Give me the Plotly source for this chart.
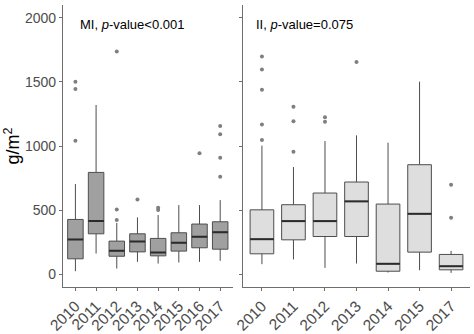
import plotly.graph_objects as go

# ---- data: MI panel ----
mi_years = ["2010", "2011", "2012", "2013", "2014", "2015", "2016", "2017"]
mi_q1 = [120, 315, 140, 174, 143, 180, 206, 195]
mi_median = [271, 414, 182, 255, 169, 245, 292, 328]
mi_q3 = [427, 794, 258, 315, 279, 323, 391, 409]
mi_low = [23, 161, 44, 96, 83, 91, 96, 104]
mi_high = [703, 1320, 400, 443, 461, 539, 539, 578]
mi_out_year_idx = [0, 0, 0, 2, 2, 2, 3, 4, 4, 6, 7, 7, 7, 7]
mi_out_vals = [1502, 1445, 1041, 1737, 505, 422, 583, 518, 500, 943, 760, 1156, 1091, 909]

# ---- data: II panel ----
ii_years = ["2010", "2011", "2012", "2013", "2014", "2015", "2017"]
ii_q1 = [159, 268, 294, 294, 23, 172, 34]
ii_median = [273, 414, 414, 568, 81, 471, 62]
ii_q3 = [502, 542, 633, 719, 547, 854, 154]
ii_low = [78, 115, 49, 83, 13, 31, 10]
ii_high = [1003, 836, 1039, 1083, 1026, 1502, 182]
ii_out_year_idx = [0, 0, 0, 0, 0, 1, 1, 1, 2, 2, 3, 6, 6]
ii_out_vals = [1698, 1596, 1438, 1167, 1047, 1307, 1193, 956, 1224, 1190, 1656, 698, 440]

y_ticks = [0, 500, 1000, 1500, 2000]

BOX_W = 0.75
OUTLINE = "#4d4d4d"
MED = "#2b2b2b"
PT = "#7f7f7f"

fig = go.Figure()


def add_panel(years, q1, med, q3, lo, hi, oidx, ovals, fill, xa, ya):
    idx = list(range(len(years)))
    fig.add_trace(go.Box(
        x=idx, q1=q1, median=med, q3=q3, lowerfence=lo, upperfence=hi,
        width=BOX_W, fillcolor=fill, line=dict(color=OUTLINE, width=1),
        whiskerwidth=0, boxpoints=False, showlegend=False, hoverinfo="skip",
        xaxis=xa, yaxis=ya))
    # thicker median lines
    mx, my = [], []
    for i, m in zip(idx, med):
        mx += [i - BOX_W / 2, i + BOX_W / 2, None]
        my += [m, m, None]
    fig.add_trace(go.Scatter(x=mx, y=my, mode="lines",
                             line=dict(color=MED, width=2),
                             showlegend=False, hoverinfo="skip",
                             xaxis=xa, yaxis=ya))
    fig.add_trace(go.Scatter(x=oidx, y=ovals, mode="markers",
                             marker=dict(color=PT, size=4),
                             showlegend=False, hoverinfo="skip",
                             xaxis=xa, yaxis=ya))


add_panel(mi_years, mi_q1, mi_median, mi_q3, mi_low, mi_high,
          mi_out_year_idx, mi_out_vals, "#a0a0a0", "x", "y")
add_panel(ii_years, ii_q1, ii_median, ii_q3, ii_low, ii_high,
          ii_out_year_idx, ii_out_vals, "#dedede", "x2", "y2")

axis_common = dict(showgrid=False, zeroline=False, showline=True,
                   linecolor="#6e6e6e", linewidth=1.3, automargin=False,
                   ticks="outside", ticklen=3, tickcolor="#6e6e6e")

fig.update_layout(
    width=474, height=334,
    margin=dict(l=63, r=4, t=5, b=47),
    plot_bgcolor="white", paper_bgcolor="white",
    font=dict(family="Liberation Sans, Arial, sans-serif", color="#4d4d4d"),
    xaxis=dict(domain=[0, 0.4167], range=[-0.6, len(mi_years) - 0.4],
               tickvals=list(range(len(mi_years))), ticktext=mi_years,
               tickangle=-45, tickfont=dict(size=15.5, color="#4d4d4d"),
               anchor="y", **axis_common),
    xaxis2=dict(domain=[0.4423, 1], range=[-0.6, len(ii_years) - 0.4],
                tickvals=list(range(len(ii_years))), ticktext=ii_years,
                tickangle=-45, tickfont=dict(size=15.5, color="#4d4d4d"),
                anchor="y2", **axis_common),
    yaxis=dict(range=[-100, 2100], tickvals=y_ticks,
               tickfont=dict(size=14, color="#4d4d4d"),
               title=dict(text="g/m<sup>2</sup>", font=dict(size=18, color="black"),
                          standoff=0),
               anchor="x", **axis_common),
    yaxis2=dict(range=[-100, 2100], tickvals=y_ticks, showticklabels=False,
                anchor="x2", **axis_common),
    annotations=[
        dict(text="MI, <i>p</i>-value<0.001", xref="x domain", yref="y domain",
             x=0.09, y=0.93, xanchor="left", yanchor="middle", showarrow=False,
             font=dict(size=13, color="black")),
        dict(text="II, <i>p</i>-value=0.075", xref="x2 domain", yref="y2 domain",
             x=0.05, y=0.93, xanchor="left", yanchor="middle", showarrow=False,
             font=dict(size=13, color="black")),
    ],
)

fig.write_html("out.html")
